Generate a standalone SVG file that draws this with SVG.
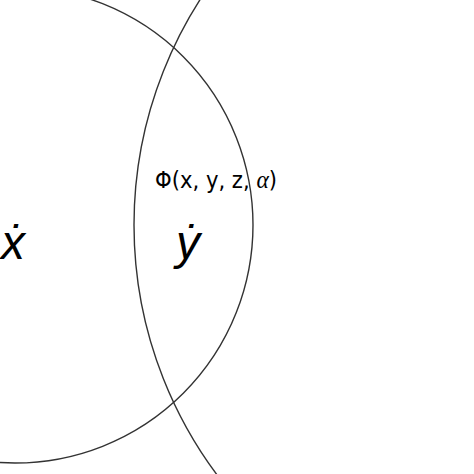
<svg xmlns="http://www.w3.org/2000/svg" width="474" height="474" viewBox="0 0 474 474">
<style>
.c{fill:none;stroke:#333;stroke-width:1.4}
.v{font-family:"Liberation Sans",Arial,sans-serif;font-style:italic;font-size:48px;fill:#000}
.f{font-family:"DejaVu Sans","Liberation Sans",sans-serif;font-size:22.5px;fill:#000}
.a{font-family:"Liberation Serif",serif;font-style:italic}
</style>
<rect width="474" height="474" fill="#fff"/>
<g id="circles">
<circle id="left" class="c" cx="15" cy="225" r="238"/>
<circle id="right" class="c" cx="551" cy="225" r="417"/>
</g>
<g id="label-x"><text class="v" x="1" y="259">ẋ</text></g>
<g id="label-y"><text class="v" x="176" y="259">ẏ</text></g>
<g id="label-phi"><text class="f" x="155" y="188" textLength="122" lengthAdjust="spacingAndGlyphs">Φ(x, y, z, <tspan class="a" font-size="25">α</tspan>)</text></g>
</svg>
